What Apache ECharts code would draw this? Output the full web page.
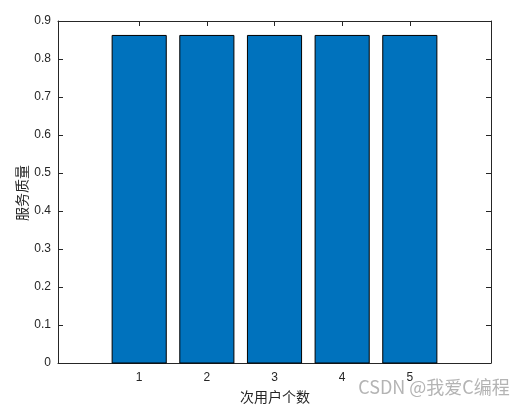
<!DOCTYPE html>
<html>
<head>
<meta charset="utf-8">
<script src="https://cdn.jsdelivr.net/npm/echarts@6/dist/echarts.min.js"></script>
<style>html,body{margin:0;padding:0;background:#fff;}#c{width:529px;height:408px;}</style>
</head>
<body>
<div id="c"></div>
<script>
var categories = [1, 2, 3, 4, 5];
var values = [0.862, 0.862, 0.862, 0.862, 0.862];
var xTickLabels = ['1', '2', '3', '4', '5'];
var yTicks = [0, 0.1, 0.2, 0.3, 0.4, 0.5, 0.6, 0.7, 0.8, 0.9];
var xTitle = '次用户个数';
var yTitle = '服务质量';

var axisColor = '#262626';
var chart = echarts.init(document.getElementById('c'));
var data = categories.map(function (c, i) { return [c, values[i]]; });

var xCommon = {
  type: 'value', min: -0.2, max: 6.2,
  axisLine: { show: true, onZero: false, lineStyle: { color: axisColor, width: 1 } },
  splitLine: { show: false }
};
var yCommon = {
  type: 'value', min: 0, max: 0.9, interval: 0.1,
  axisLine: { show: true, onZero: false, lineStyle: { color: axisColor, width: 1 } },
  splitLine: { show: false }
};

chart.setOption({
  animation: false,
  grid: { left: 58, right: 38, top: 21, bottom: 45, containLabel: false },
  xAxis: [
    Object.assign({}, xCommon, {
      position: 'bottom',
      axisTick: { show: true, inside: true, length: 5, customValues: categories, lineStyle: { color: axisColor } },
      axisLabel: { show: true, customValues: categories, color: axisColor, fontSize: 12, fontFamily: 'Liberation Sans, Arial', margin: 9,
        formatter: function (v) { var i = categories.indexOf(v); return i >= 0 ? xTickLabels[i] : ''; } }
    }),
    Object.assign({}, xCommon, {
      position: 'top',
      axisTick: { show: true, inside: true, length: 5, customValues: categories, lineStyle: { color: axisColor } },
      axisLabel: { show: false }
    })
  ],
  yAxis: [
    Object.assign({}, yCommon, {
      position: 'left',
      axisTick: { show: true, inside: true, length: 5, lineStyle: { color: axisColor } },
      axisLabel: { show: true, color: axisColor, fontSize: 12, fontFamily: 'Liberation Sans, Arial', margin: 7,
        formatter: function (v) { return v === 0 ? '0' : v.toFixed(1); } }
    }),
    Object.assign({}, yCommon, {
      position: 'right',
      axisTick: { show: true, inside: true, length: 5, lineStyle: { color: axisColor } },
      axisLabel: { show: false }
    })
  ],
  series: [{
    type: 'custom',
    xAxisIndex: 0, yAxisIndex: 0,
    data: data,
    renderItem: function (params, api) {
      var x = api.value(0), y = api.value(1);
      var p0 = api.coord([x - 0.4, y]);
      var p1 = api.coord([x + 0.4, 0]);
      return {
        type: 'rect',
        shape: { x: p0[0], y: p0[1], width: p1[0] - p0[0], height: p1[1] - p0[1] },
        style: { fill: '#0072BD', stroke: '#000000', lineWidth: 1 }
      };
    },
    z: 1
  }],
  graphic: [
    { type: 'text', left: 'center', top: 0, silent: true,
      x: 0, y: 0,
      style: { text: '' } },
    { type: 'text', x: 275, y: 397, silent: true,
      style: { text: xTitle, fill: axisColor, font: '14px "Noto Sans CJK SC"', align: 'center', verticalAlign: 'middle' } },
    { type: 'text', x: 22, y: 193, rotation: Math.PI / 2, silent: true,
      style: { text: yTitle, fill: axisColor, font: '14px "Noto Sans CJK SC"', align: 'center', verticalAlign: 'middle' } },
    { type: 'text', x: 434, y: 387, silent: true,
      style: { text: 'CSDN @我爱C编程', fill: '#b4b4b4', font: '18px "Noto Sans CJK SC"', align: 'center', verticalAlign: 'middle' } }
  ]
});
</script>
</body>
</html>
